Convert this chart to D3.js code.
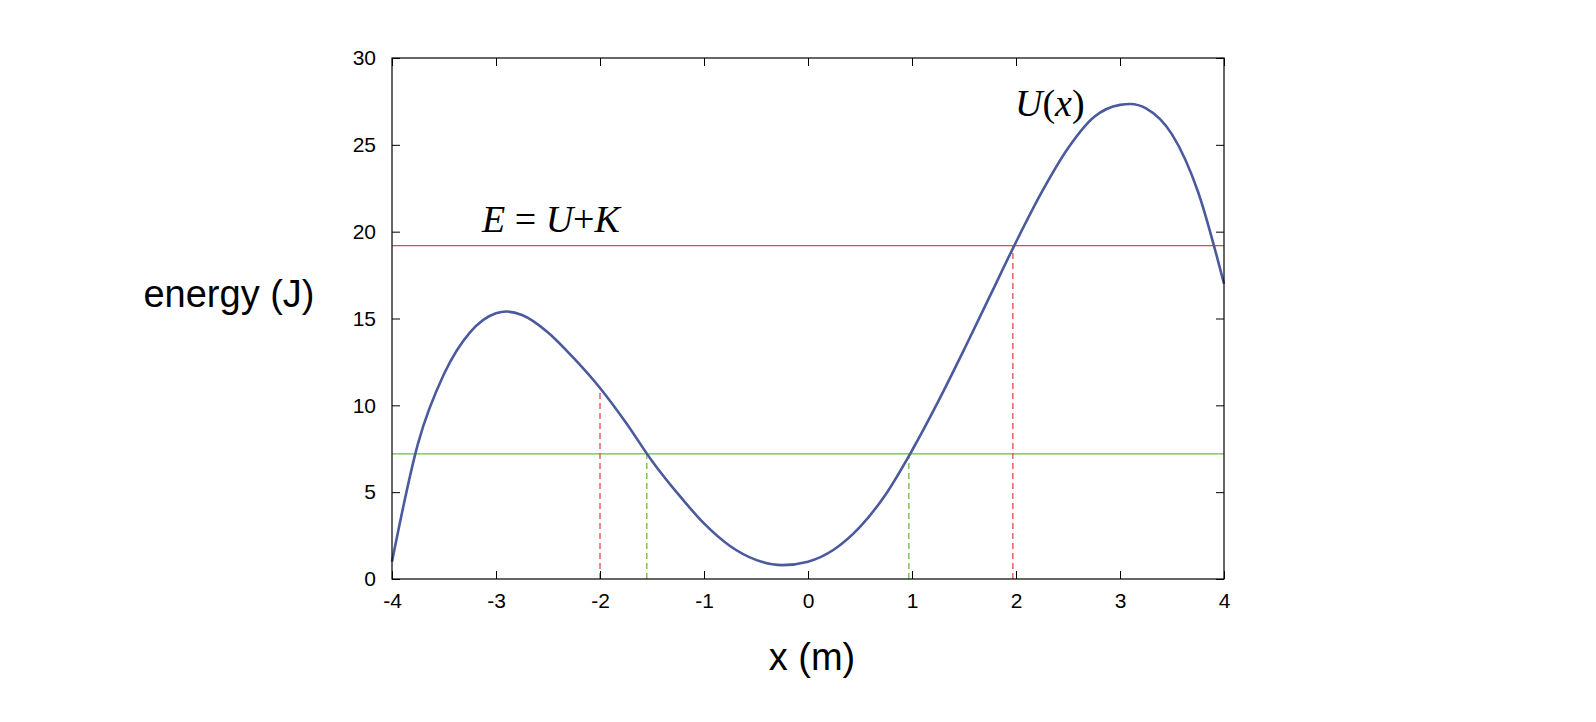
<!DOCTYPE html>
<html><head><meta charset="utf-8">
<script src="https://cdn.jsdelivr.net/npm/d3@7"></script>
<style>body{margin:0;background:#fff}</style></head>
<body><svg id="c" width="1596" height="722"></svg>
<script>
const xs = [-4,-3.75,-3.5,-3.25,-3,-2.9,-2.75,-2.5,-2.25,-2,-1.75,-1.5,-1.25,-1,-0.75,-0.5,-0.25,0,0.25,0.5,0.75,1,1.25,1.5,1.75,2,2.25,2.5,2.75,3,3.1,3.25,3.5,3.75,4];
const us = [1.0,7.8,11.8,14.2,15.3,15.4,15.2,14.2,12.7,11.0,9.0,6.8,4.9,3.2,1.9,1.1,0.8,1.0,1.7,3.0,4.9,7.4,10.2,13.2,16.3,19.4,22.3,24.8,26.6,27.3,27.35,27.1,25.6,22.3,17.0];
const energyLevels = [19.2, 7.2];
const levelColors = ["#e0484a", "#6cbb3c"];
const turningPoints = [[-2,11.0,0],[1.97,19.2,0],[-1.55,7.2,1],[0.97,7.2,1]];
const xTicks = [-4,-3,-2,-1,0,1,2,3,4];
const yTicks = [0,5,10,15,20,25,30];

const svg = d3.select("#c");
const x = d3.scaleLinear().domain([-4,4]).range([392,1224]);
const y = d3.scaleLinear().domain([0,30]).range([579,58]);
const g = svg.append("g");

energyLevels.forEach((e,i)=>{
  g.append("line").attr("x1",x(-4)).attr("x2",x(4)).attr("y1",y(e)).attr("y2",y(e))
   .attr("stroke",levelColors[i]).attr("stroke-width",1.3);
});
turningPoints.forEach(([tx,ty,ci])=>{
  g.append("line").attr("x1",x(tx)).attr("x2",x(tx)).attr("y1",y(0)).attr("y2",y(ty))
   .attr("stroke",levelColors[ci]).attr("stroke-width",1.3).attr("stroke-dasharray","6,4");
});
g.append("path").datum(xs.map((v,i)=>[v,us[i]]))
 .attr("d",d3.line().x(d=>x(d[0])).y(d=>y(d[1])).curve(d3.curveMonotoneX))
 .attr("fill","none").attr("stroke","#4b5a9c").attr("stroke-width",2.6);

svg.append("rect").attr("x",392).attr("y",58).attr("width",832).attr("height",521)
 .attr("fill","none").attr("stroke","#000").attr("stroke-width",1.2);
const tf = "Liberation Sans, Arial, sans-serif";
const fmt = d => String(d);
const ax = svg.append("g").attr("transform","translate(0,579)").call(d3.axisBottom(x).tickValues(xTicks).tickFormat(fmt).tickSizeInner(-8).tickSizeOuter(0).tickPadding(14));
const axT = svg.append("g").attr("transform","translate(0,58)").call(d3.axisTop(x).tickValues(xTicks).tickSizeInner(-8).tickSizeOuter(0).tickFormat(""));
const ay = svg.append("g").attr("transform","translate(392,0)").call(d3.axisLeft(y).tickValues(yTicks).tickFormat(fmt).tickSizeInner(-8).tickSizeOuter(0).tickPadding(16));
const ayR = svg.append("g").attr("transform","translate(1224,0)").call(d3.axisRight(y).tickValues(yTicks).tickSizeInner(-8).tickSizeOuter(0).tickFormat(""));
[ax,axT,ay,ayR].forEach(a=>{a.select(".domain").remove();a.selectAll("text").attr("font-family",tf).attr("font-size",21).attr("fill","#000");});

svg.append("text").attr("x",812).attr("y",670).attr("text-anchor","middle").attr("font-family",tf).attr("font-size",38).text("x (m)");
svg.append("text").attr("x",229).attr("y",307).attr("text-anchor","middle").attr("font-family",tf).attr("font-size",38).text("energy (J)");
const sf = "Liberation Serif, Times New Roman, serif";
const t1 = svg.append("text").attr("x",482).attr("y",232).attr("font-family",sf).attr("font-size",38);
t1.append("tspan").attr("font-style","italic").text("E");
t1.append("tspan").text(" = ");
t1.append("tspan").attr("font-style","italic").text("U");
t1.append("tspan").text("+");
t1.append("tspan").attr("font-style","italic").text("K");
const t2 = svg.append("text").attr("x",1015).attr("y",116).attr("font-family",sf).attr("font-size",38);
t2.append("tspan").attr("font-style","italic").text("U");
t2.append("tspan").text("(");
t2.append("tspan").attr("font-style","italic").text("x");
t2.append("tspan").text(")");
</script></body></html>
